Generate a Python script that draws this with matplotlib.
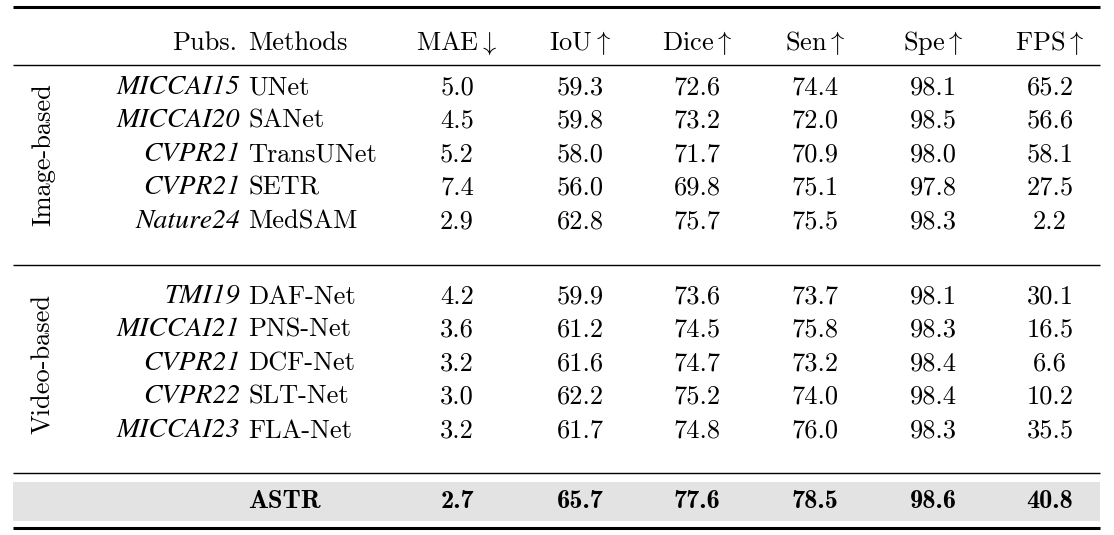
import matplotlib
matplotlib.use("Agg")
import matplotlib.pyplot as plt
from matplotlib.patches import Rectangle

plt.rcParams['mathtext.fontset'] = 'cm'
plt.rcParams['axes.unicode_minus'] = False

headers = ["MAE", "IoU", "Dice", "Sen", "Spe", "FPS"]
arrows = [r"$\downarrow$", r"$\uparrow$", r"$\uparrow$", r"$\uparrow$", r"$\uparrow$", r"$\uparrow$"]
image_pubs = ["MICCAI15", "MICCAI20", "CVPR21", "CVPR21", "Nature24"]
image_methods = ["UNet", "SANet", "TransUNet", "SETR", "MedSAM"]
image_vals = [[5.0, 59.3, 72.6, 74.4, 98.1, 65.2],
              [4.5, 59.8, 73.2, 72.0, 98.5, 56.6],
              [5.2, 58.0, 71.7, 70.9, 98.0, 58.1],
              [7.4, 56.0, 69.8, 75.1, 97.8, 27.5],
              [2.9, 62.8, 75.7, 75.5, 98.3, 2.2]]
video_pubs = ["TMI19", "MICCAI21", "CVPR21", "CVPR22", "MICCAI23"]
video_methods = ["DAF-Net", "PNS-Net", "DCF-Net", "SLT-Net", "FLA-Net"]
video_vals = [[4.2, 59.9, 73.6, 73.7, 98.1, 30.1],
              [3.6, 61.2, 74.5, 75.8, 98.3, 16.5],
              [3.2, 61.6, 74.7, 73.2, 98.4, 6.6],
              [3.0, 62.2, 75.2, 74.0, 98.4, 10.2],
              [3.2, 61.7, 74.8, 76.0, 98.3, 35.5]]
ours_method = "ASTR"
ours_vals = [2.7, 65.7, 77.6, 78.5, 98.6, 40.8]

fig = plt.figure(figsize=(11.14, 5.35), dpi=100)
ax = fig.add_axes([0, 0, 1, 1])
ax.set_xlim(0, 1114); ax.set_ylim(535, 0); ax.axis('off')

fs = 19
rm = dict(family='cmr10', fontsize=fs, va='center')
bf = dict(family='cmb10', fontsize=fs, va='center')
it = dict(family='STIXGeneral', style='italic', fontsize=fs + 1, va='center')
colx = [457, 580, 697, 815, 933, 1050]
x0, x1 = 13, 1100

def hline(y, lw):
    ax.plot([x0, x1], [y, y], color='black', lw=lw, solid_capstyle='butt')

ax.add_patch(Rectangle((x0, 482), x1 - x0, 39, color='#e3e3e3', lw=0, zorder=0))
hline(7, 2.2); hline(65, 1.0); hline(265, 1.0); hline(473, 1.0); hline(528, 2.2)

yh = 43
ax.text(237, yh, "Pubs.", ha='right', **rm)
ax.text(248, yh, "Methods", ha='left', **rm)
for x, h, a in zip(colx, headers, arrows):
    ax.text(x, yh, h + a, ha='center', **rm)

def rows(pubs, methods, vals, ys):
    for p, m, v, y in zip(pubs, methods, vals, ys):
        ax.text(240, y, p, ha='right', **it)
        ax.text(248, y, m, ha='left', **rm)
        for x, val in zip(colx, v):
            ax.text(x, y, f"{val:.1f}", ha='center', **rm)

rows(image_pubs, image_methods, image_vals, [88, 121, 155, 188, 222])
rows(video_pubs, video_methods, video_vals, [297, 330, 364, 397, 431])
ax.text(43, 155, "Image-based", rotation=90, ha='center', **rm)
ax.text(43, 364, "Video-based", rotation=90, ha='center', **rm)

ax.text(248, 501, ours_method, ha='left', **bf)
for x, val in zip(colx, ours_vals):
    ax.text(x, 501, f"{val:.1f}", ha='center', **bf)

fig.savefig("out.png", dpi=100)
